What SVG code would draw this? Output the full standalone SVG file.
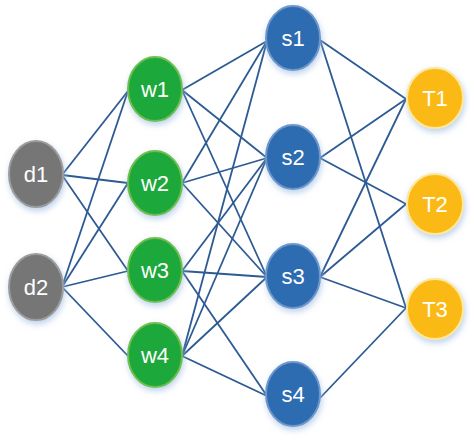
<svg xmlns="http://www.w3.org/2000/svg" width="474" height="441" viewBox="0 0 474 441">
<defs>
<filter id="sh" x="-40%" y="-40%" width="180%" height="180%">
<feDropShadow dx="1" dy="3" stdDeviation="3" flood-color="#9fbde3" flood-opacity="0.7"/>
</filter>
</defs>
<style>
.e{stroke:#2c5a93;stroke-width:1.8;fill:none}
.n{stroke-width:2;filter:url(#sh)}
.d{fill:#767676;stroke:#9c9c9c}
.w{fill:#1fa83b;stroke:#6fbf4b}
.s{fill:#2f6cb2;stroke:#6d97cb}
.t{fill:#fbb912;stroke:#fde79a}
text{font-family:"Liberation Sans",Arial,sans-serif;font-size:22px;fill:#fff;text-anchor:middle;dominant-baseline:central}
</style>
<rect width="474" height="441" fill="#fff"/>
<g id="connectors">
<line class="e" x1="62" y1="175" x2="128" y2="91"/>
<line class="e" x1="62" y1="175" x2="128" y2="183"/>
<line class="e" x1="62" y1="175" x2="128" y2="271"/>
<line class="e" x1="62" y1="287" x2="128" y2="91"/>
<line class="e" x1="62" y1="287" x2="128" y2="183"/>
<line class="e" x1="62" y1="287" x2="128" y2="271"/>
<line class="e" x1="62" y1="287" x2="128" y2="356"/>
<line class="e" x1="182" y1="90" x2="267" y2="41"/>
<line class="e" x1="182" y1="90" x2="267" y2="158"/>
<line class="e" x1="182" y1="90" x2="267" y2="277"/>
<line class="e" x1="182" y1="183" x2="267" y2="41"/>
<line class="e" x1="182" y1="183" x2="267" y2="158"/>
<line class="e" x1="182" y1="183" x2="267" y2="277"/>
<line class="e" x1="182" y1="271" x2="267" y2="158"/>
<line class="e" x1="182" y1="271" x2="267" y2="277"/>
<line class="e" x1="182" y1="271" x2="267" y2="396"/>
<line class="e" x1="182" y1="356" x2="267" y2="41"/>
<line class="e" x1="182" y1="356" x2="267" y2="158"/>
<line class="e" x1="182" y1="356" x2="267" y2="277"/>
<line class="e" x1="182" y1="356" x2="267" y2="396"/>
<line class="e" x1="320" y1="40" x2="406" y2="99"/>
<line class="e" x1="320" y1="40" x2="406" y2="308"/>
<line class="e" x1="320" y1="158" x2="406" y2="99"/>
<line class="e" x1="320" y1="158" x2="406" y2="204"/>
<line class="e" x1="320" y1="277" x2="406" y2="99"/>
<line class="e" x1="320" y1="277" x2="406" y2="204"/>
<line class="e" x1="320" y1="277" x2="406" y2="308"/>
<line class="e" x1="320" y1="398" x2="406" y2="308"/>
</g>
<g id="d1"><ellipse class="n d" cx="36" cy="174" rx="27" ry="33"/><text x="36" y="174">d1</text></g>
<g id="d2"><ellipse class="n d" cx="36" cy="287" rx="27" ry="33"/><text x="36" y="287">d2</text></g>
<g id="w1"><ellipse class="n w" cx="155" cy="89" rx="27" ry="32"/><text x="155" y="89">w1</text></g>
<g id="w2"><ellipse class="n w" cx="155" cy="183" rx="27" ry="32"/><text x="155" y="183">w2</text></g>
<g id="w3"><ellipse class="n w" cx="155" cy="270" rx="27" ry="32"/><text x="155" y="270">w3</text></g>
<g id="w4"><ellipse class="n w" cx="155" cy="355" rx="27" ry="32"/><text x="155" y="355">w4</text></g>
<g id="s1"><ellipse class="n s" cx="293" cy="38" rx="27" ry="32"/><text x="293" y="38">s1</text></g>
<g id="s2"><ellipse class="n s" cx="293" cy="157" rx="27" ry="32"/><text x="293" y="157">s2</text></g>
<g id="s3"><ellipse class="n s" cx="293" cy="276" rx="27" ry="32"/><text x="293" y="276">s3</text></g>
<g id="s4"><ellipse class="n s" cx="293" cy="394" rx="27" ry="32"/><text x="293" y="394">s4</text></g>
<g id="T1"><ellipse class="n t" cx="435" cy="98" rx="28" ry="30"/><text x="435" y="98">T1</text></g>
<g id="T2"><ellipse class="n t" cx="435" cy="204" rx="28" ry="30"/><text x="435" y="204">T2</text></g>
<g id="T3"><ellipse class="n t" cx="435" cy="309" rx="28" ry="30"/><text x="435" y="309">T3</text></g>
</svg>
